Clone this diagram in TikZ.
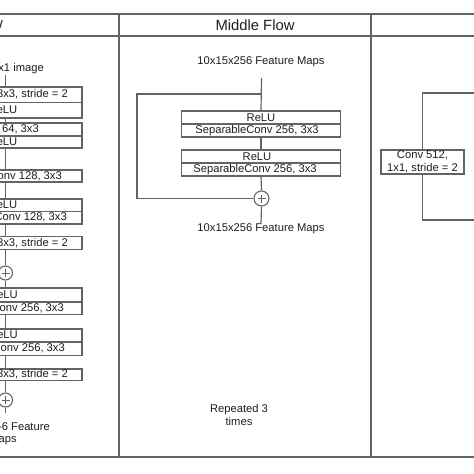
\documentclass[tikz,border=0pt]{standalone}
\usepackage{fontspec}
\setmainfont{Liberation Sans}
\definecolor{lncol}{RGB}{100,100,100}
\definecolor{txtcol}{RGB}{30,30,30}
\begin{document}
\begin{tikzpicture}[x=1pt,y=-1pt,
  ln/.style={draw=lncol, line width=1.2pt},
  row/.style={draw=lncol, line width=1.1pt, minimum width=153pt, inner sep=0pt, fill=white},
  mrow/.style={draw=lncol, line width=1.1pt, minimum width=159pt, minimum height=13pt, inner sep=0pt, fill=white, text=txtcol, font=\fontsize{11.2}{13}\selectfont},
  txt/.style={text=txtcol, font=\fontsize{11.2}{13}\selectfont, inner sep=0pt, text height=8pt, text depth=2pt},
  head/.style={text=txtcol, font=\fontsize{14.8}{17}\selectfont, inner sep=0pt},
  plus/.style={circle, draw=lncol, line width=1.1pt, fill=white, inner sep=0pt, minimum size=#1,
    path picture={\draw[lncol, line width=1pt]
      ([xshift=-4pt]path picture bounding box.center) -- ([xshift=4pt]path picture bounding box.center)
      ([yshift=-4pt]path picture bounding box.center) -- ([yshift=4pt]path picture bounding box.center);}}
]
\useasboundingbox (0,0) rectangle (474,474);
\clip (0,0) rectangle (474,474);
\fill[white] (0,0) rectangle (474,474);

% frame
\draw[ln] (0,14) -- (474,14);
\draw[ln] (0,36) -- (474,36);
\draw[ln] (0,457) -- (474,457);
\draw[ln] (119,14) -- (119,457);
\draw[ln] (371,14) -- (371,457);

% headers
\node[head, anchor=east] (hentry) at (3,25) {w};
\node[head] (hmid) at (255,25) {Middle Flow};

% ---------- left column ----------
\node[txt, anchor=east] (img) at (44,68) {x1 image};
\coordinate (imgc) at (5.5,75);

\node[row, minimum height=15.5pt] (b1a) at (5.5,94.75) {};
\node[row, minimum height=15.5pt] (b1b) at (5.5,110.25) {};
\node[row, minimum height=13pt] (b2a) at (5.5,129.5) {};
\node[row, minimum height=12pt] (b2b) at (5.5,142) {};
\node[row, minimum height=12pt] (b3) at (5.5,176) {};
\node[row, minimum height=12.5pt] (b4a) at (5.5,205.25) {};
\node[row, minimum height=12.5pt] (b4b) at (5.5,217.75) {};
\node[row, minimum height=13pt] (b5) at (5.5,243) {};
\node[plus=14pt] (c1) at (5.5,273) {};
\node[row, minimum height=14pt] (b6a) at (5.5,295) {};
\node[row, minimum height=12.5pt] (b6b) at (5.5,308.25) {};
\node[row, minimum height=13pt] (b7a) at (5.5,335.5) {};
\node[row, minimum height=13.5pt] (b7b) at (5.5,348.75) {};
\node[row, minimum height=11.5pt] (b8) at (5.5,374.75) {};
\node[plus=14pt] (c2) at (5.5,400) {};
\coordinate (c2end) at (5.5,413);

\node[txt, anchor=east] (t1a) at (68,94.75) {3x3, stride = 2};
\node[txt, anchor=east] (t1b) at (17.5,110.25) {eLU};
\node[txt, anchor=east] (t2a) at (39,129.5) {64, 3x3};
\node[txt, anchor=east] (t2b) at (17.5,142) {eLU};
\node[txt, anchor=east] (t3) at (62,176) {onv 128, 3x3};
\node[txt, anchor=east] (t4a) at (17.5,205.25) {eLU};
\node[txt, anchor=east] (t4b) at (67,217.75) {Conv 128, 3x3};
\node[txt, anchor=east] (t5) at (68,243) {3x3, stride = 2};
\node[txt, anchor=east] (t6a) at (18,295) {eLU};
\node[txt, anchor=east] (t6b) at (64,308.25) {onv 256, 3x3};
\node[txt, anchor=east] (t7a) at (18,335.5) {eLU};
\node[txt, anchor=east] (t7b) at (65,348.75) {onv 256, 3x3};
\node[txt, anchor=east] (t8) at (68,374.75) {3x3, stride = 2};
\node[txt, anchor=east] (tf1) at (50,427) {-6 Feature};
\node[txt, anchor=east] (tf2) at (17,439.5) {aps};

\draw[ln] (imgc) -- (b1a.north);
\draw[ln] (b1b.south) -- (b2a.north);
\draw[ln] (b2b.south) -- (b3.north);
\draw[ln] (b3.south) -- (b4a.north);
\draw[ln] (b4b.south) -- (b5.north);
\draw[ln] (b5.south) -- (c1.north);
\draw[ln] (c1.south) -- (b6a.north);
\draw[ln] (b6b.south) -- (b7a.north);
\draw[ln] (b7b.south) -- (b8.north);
\draw[ln] (b8.south) -- (c2.north);
\draw[ln] (c2.south) -- (c2end);

% ---------- middle column ----------
\node[txt] (mtop) at (261,61) {10x15x256 Feature Maps};
\coordinate (mstart) at (261.5,78);
\coordinate (mj) at (261.5,94);
\coordinate (ml) at (137,94);
\node[mrow] (m1a) at (261,117.5) {ReLU};
\node[mrow] (m1b) at (261,130.5) {\hspace*{-8pt}SeparableConv 256, 3x3};
\node[mrow] (m2a) at (261,156.5) {\hspace*{-8pt}ReLU};
\node[mrow] (m2b) at (261,169.5) {\hspace*{-12pt}SeparableConv 256, 3x3};
\node[plus=15pt] (mc) at (261.5,198.5) {};
\node[txt] (mbot) at (261,228) {10x15x256 Feature Maps};

\draw[ln] (mstart) -- (m1a.north);
\draw[ln] (m1b.south) -- (m2a.north);
\draw[ln] (m2b.south) -- (mc.north);
\draw[ln] (mc.south) -- (mbot.north);
\draw[ln] (mj) -- (ml) |- (mc.west);

\node[txt, align=center, text height=, text depth=, font=\fontsize{11.2}{13}\selectfont] (rep) at (239,414.5) {Repeated 3\\times};

% ---------- right column ----------
\coordinate (rt) at (476,93);
\coordinate (rb) at (476,220);
\draw[ln] (rt) -| (422.5,150);
\draw[ln] (422.5,174) |- (rb);
\node[draw=lncol, line width=1.1pt, fill=white, minimum width=83pt, minimum height=24pt, inner sep=0pt,
  align=center, text=txtcol, font=\fontsize{11.2}{13.5}\selectfont] (conv) at (422.5,162) {Conv 512,\\1x1, stride = 2};
\end{tikzpicture}
\end{document}
